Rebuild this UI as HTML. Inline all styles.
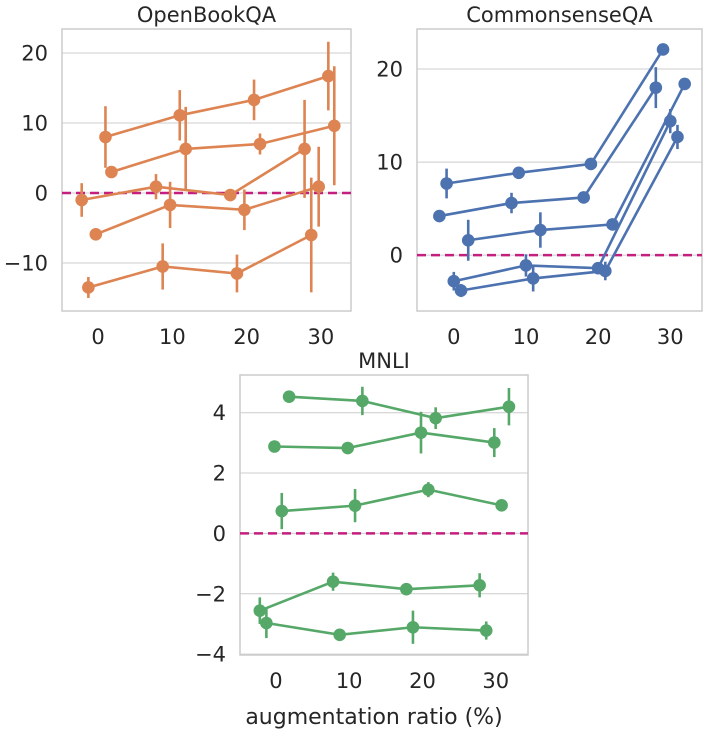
<!DOCTYPE html>
<html><head><meta charset="utf-8"><style>
html,body{margin:0;padding:0;background:#fff;}
svg{display:block;font-family:"DejaVu Sans","Liberation Sans",sans-serif;}
</style></head><body>
<svg id="chart" width="710" height="731" viewBox="0 0 710 731" xmlns="http://www.w3.org/2000/svg"></svg>
<script>
const categories = [0, 10, 20, 30];
// OpenBookQA
const obqaOffsets = [1.0, 1.8, -2.2, -0.3, -1.3];
const obqaValues = [[8.0,11.1,13.3,16.7],[3.0,6.3,7.0,9.6],[-1.0,0.9,-0.3,6.3],[-5.9,-1.7,-2.4,0.9],[-13.5,-10.5,-11.5,-6.0]];
const obqaErrors = [[4.4,3.6,2.9,4.9],[0.5,6.0,1.5,8.5],[2.4,1.8,0.5,7.0],[0.4,3.3,2.9,5.7],[1.5,3.3,2.7,8.2]];
const obqaYTicks = [-10, 0, 10, 20];
// CommonsenseQA
const csqaOffsets = [-1.0, -2.0, 2.0, 0.0, 1.0];
const csqaValues = [[7.7,8.85,9.8,22.1],[4.2,5.6,6.2,18.0],[1.6,2.7,3.3,18.4],[-2.8,-1.1,-1.4,14.4],[-3.8,-2.5,-1.7,12.7]];
const csqaErrors = [[1.6,0.3,0.3,0.5],[0.3,1.1,0.5,2.2],[2.2,1.9,0.5,0.3],[1.0,1.2,0.3,1.3],[0.7,1.4,1.0,1.3]];
const csqaYTicks = [0, 10, 20];
// MNLI
const mnliOffsets = [1.8, -0.2, 0.8, -2.2, -1.3];
const mnliValues = [[4.53,4.39,3.82,4.2],[2.88,2.83,3.34,3.01],[0.74,0.92,1.45,0.93],[-2.56,-1.6,-1.85,-1.72],[-2.97,-3.36,-3.11,-3.22]];
const mnliErrors = [[0.1,0.47,0.36,0.62],[0.1,0.1,0.69,0.48],[0.6,0.55,0.25,0.1],[0.44,0.3,0.1,0.4],[0.5,0.1,0.55,0.3]];
const mnliYTicks = [-4, -2, 0, 2, 4];
const xTickLabels = ["0", "10", "20", "30"];

const NS = "http://www.w3.org/2000/svg";
const svg = document.getElementById('chart');
function mk(tag, attrs, parent){const e=document.createElementNS(NS,tag);for(const k in attrs)e.setAttribute(k,attrs[k]);(parent||svg).appendChild(e);return e;}
function fmt(v){return v<0?"\u2212"+Math.abs(v):String(v);}

function panel(name, box, xd, yd, offsets, values, errors, yticks, color){
  const g = mk('g',{});
  
  
  const sx = v => box.x0 + (v - xd[0])/(xd[1]-xd[0])*(box.x1-box.x0);
  const sy = v => box.y1 - (v - yd[0])/(yd[1]-yd[0])*(box.y1-box.y0);
  yticks.forEach(t=>{
    const l = mk('line',{x1:box.x0,x2:box.x1,y1:sy(t),y2:sy(t),stroke:'#cccccc','stroke-width':1},g);
    
    
    const tx = mk('text',{x:box.x0-14,y:sy(t)+7.5,'text-anchor':'end','font-size':21,fill:'#262626'},g);
    tx.textContent = fmt(t);
    
    
  });
  categories.forEach((c,i)=>{
    const tx = mk('text',{x:sx(c),y:box.y1+33,'text-anchor':'middle','font-size':21,fill:'#262626'},g);
    tx.textContent = xTickLabels[i];
    
    
  });
  const fr = mk('rect',{x:box.x0,y:box.y0,width:box.x1-box.x0,height:box.y1-box.y0,fill:'none',stroke:'#cccccc','stroke-width':1.5},g);
  
  
  const zl = mk('line',{x1:box.x0,x2:box.x1,y1:sy(0),y2:sy(0),stroke:'#c41e7e','stroke-width':2.5,'stroke-dasharray':'9,5'},g);
  
  
  values.forEach((ser,si)=>{
    const sg = mk('g',{},g);
    
    
    const pts = ser.map((v,i)=>sx(categories[i]+offsets[si])+','+sy(v)).join(' ');
    const pl = mk('polyline',{points:pts,fill:'none',stroke:color,'stroke-width':2.6},sg);
    
    
    ser.forEach((v,i)=>{
      const x = sx(categories[i]+offsets[si]);
      const e = errors[si][i];
      const el = mk('line',{x1:x,x2:x,y1:sy(v-e),y2:sy(v+e),stroke:color,'stroke-width':2.6},sg);
      
      
      const c = mk('circle',{cx:x,cy:sy(v),r:6.3,fill:color},sg);
      
      
    });
  });
  const t = mk('text',{x:(box.x0+box.x1)/2,y:box.y0-7,'text-anchor':'middle','font-size':21,fill:'#262626'},g);
  t.textContent = name;
  
  
}

panel('OpenBookQA',{x0:62,x1:351,y0:29,y1:311},[-4.85,34.05],[-16.86,23.43],obqaOffsets,obqaValues,obqaErrors,obqaYTicks,'#dd8452');
panel('CommonsenseQA',{x0:417,x1:702,y0:29,y1:311},[-5.1,34.4],[-6.0,24.3],csqaOffsets,csqaValues,csqaErrors,csqaYTicks,'#4c72b0');
panel('MNLI',{x0:240,x1:528,y0:375,y1:655},[-4.9,34.4],[-4.03,5.25],mnliOffsets,mnliValues,mnliErrors,mnliYTicks,'#55a868');
const xl = mk('text',{x:374,y:724,'text-anchor':'middle','font-size':22,fill:'#262626'});
xl.textContent = 'augmentation ratio (%)';


</script>
</body></html>
